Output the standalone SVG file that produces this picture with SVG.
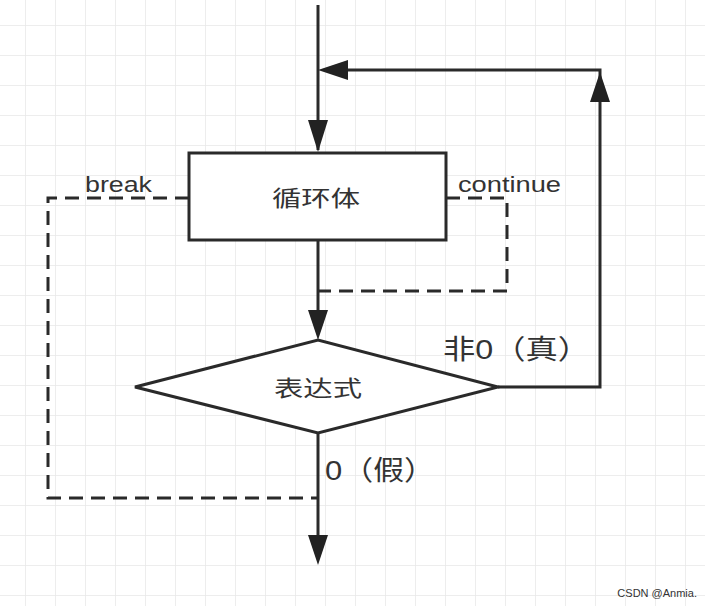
<svg xmlns="http://www.w3.org/2000/svg" width="705" height="606" viewBox="0 0 705 606">
<defs>
<pattern id="g" x="25" y="25" width="30" height="30" patternUnits="userSpaceOnUse"><path d="M0 0H30M0 0V30" fill="none" stroke="#e8e8e8" stroke-width="1.5"/></pattern>
<style>.l{fill:none;stroke:#2a2a2a;stroke-width:3}.d{fill:none;stroke:#2a2a2a;stroke-width:3;stroke-dasharray:14 8}.h{fill:#222}text{font-family:"Liberation Sans","Noto Sans CJK SC",sans-serif;fill:#333}</style>
</defs>
<rect width="705" height="606" fill="#fff"/>
<rect width="705" height="606" fill="url(#g)"/>
<g id="connectors">
<path class="l" d="M318 5V150"/>
<path class="l" d="M498 387H600V70H345"/>
<path class="h" d="M318 70L348 60V80z M590 102L600 72L610 102z"/>
<path class="l" d="M318 240V310"/>
<path class="h" d="M308 310L318 340L328 310z"/>
<path class="l" d="M318 433V535"/>
<path class="h" d="M308 535L318 565L328 535z"/>
<path class="h" d="M308 120L318 152L328 120z"/>
<path class="d" d="M189 198H48V498H318"/>
<path class="d" d="M446 198H507V291H318"/>
</g>
<g id="body"><rect x="189" y="153" width="257" height="87" fill="#fff" stroke="#2a2a2a" stroke-width="3"/><text x="272" y="206" font-size="22" textLength="88" lengthAdjust="spacingAndGlyphs">循环体</text></g>
<g id="cond"><path d="M135 387L318 340L498 387L318 433z" fill="#fff" stroke="#2a2a2a" stroke-width="3"/><text x="274" y="396" font-size="22" textLength="88" lengthAdjust="spacingAndGlyphs">表达式</text></g>
<text x="85" y="192" font-size="22" textLength="67" lengthAdjust="spacingAndGlyphs">break</text>
<text x="458" y="192" font-size="22" textLength="103" lengthAdjust="spacingAndGlyphs">continue</text>
<text x="443" y="359" font-size="27" textLength="147" lengthAdjust="spacingAndGlyphs">非0（真）</text>
<text x="325" y="480" font-size="27" textLength="110" lengthAdjust="spacingAndGlyphs">0（假）</text>
<text x="697" y="597" font-size="11" text-anchor="end" fill="#666">CSDN @Anmia.</text>
</svg>
